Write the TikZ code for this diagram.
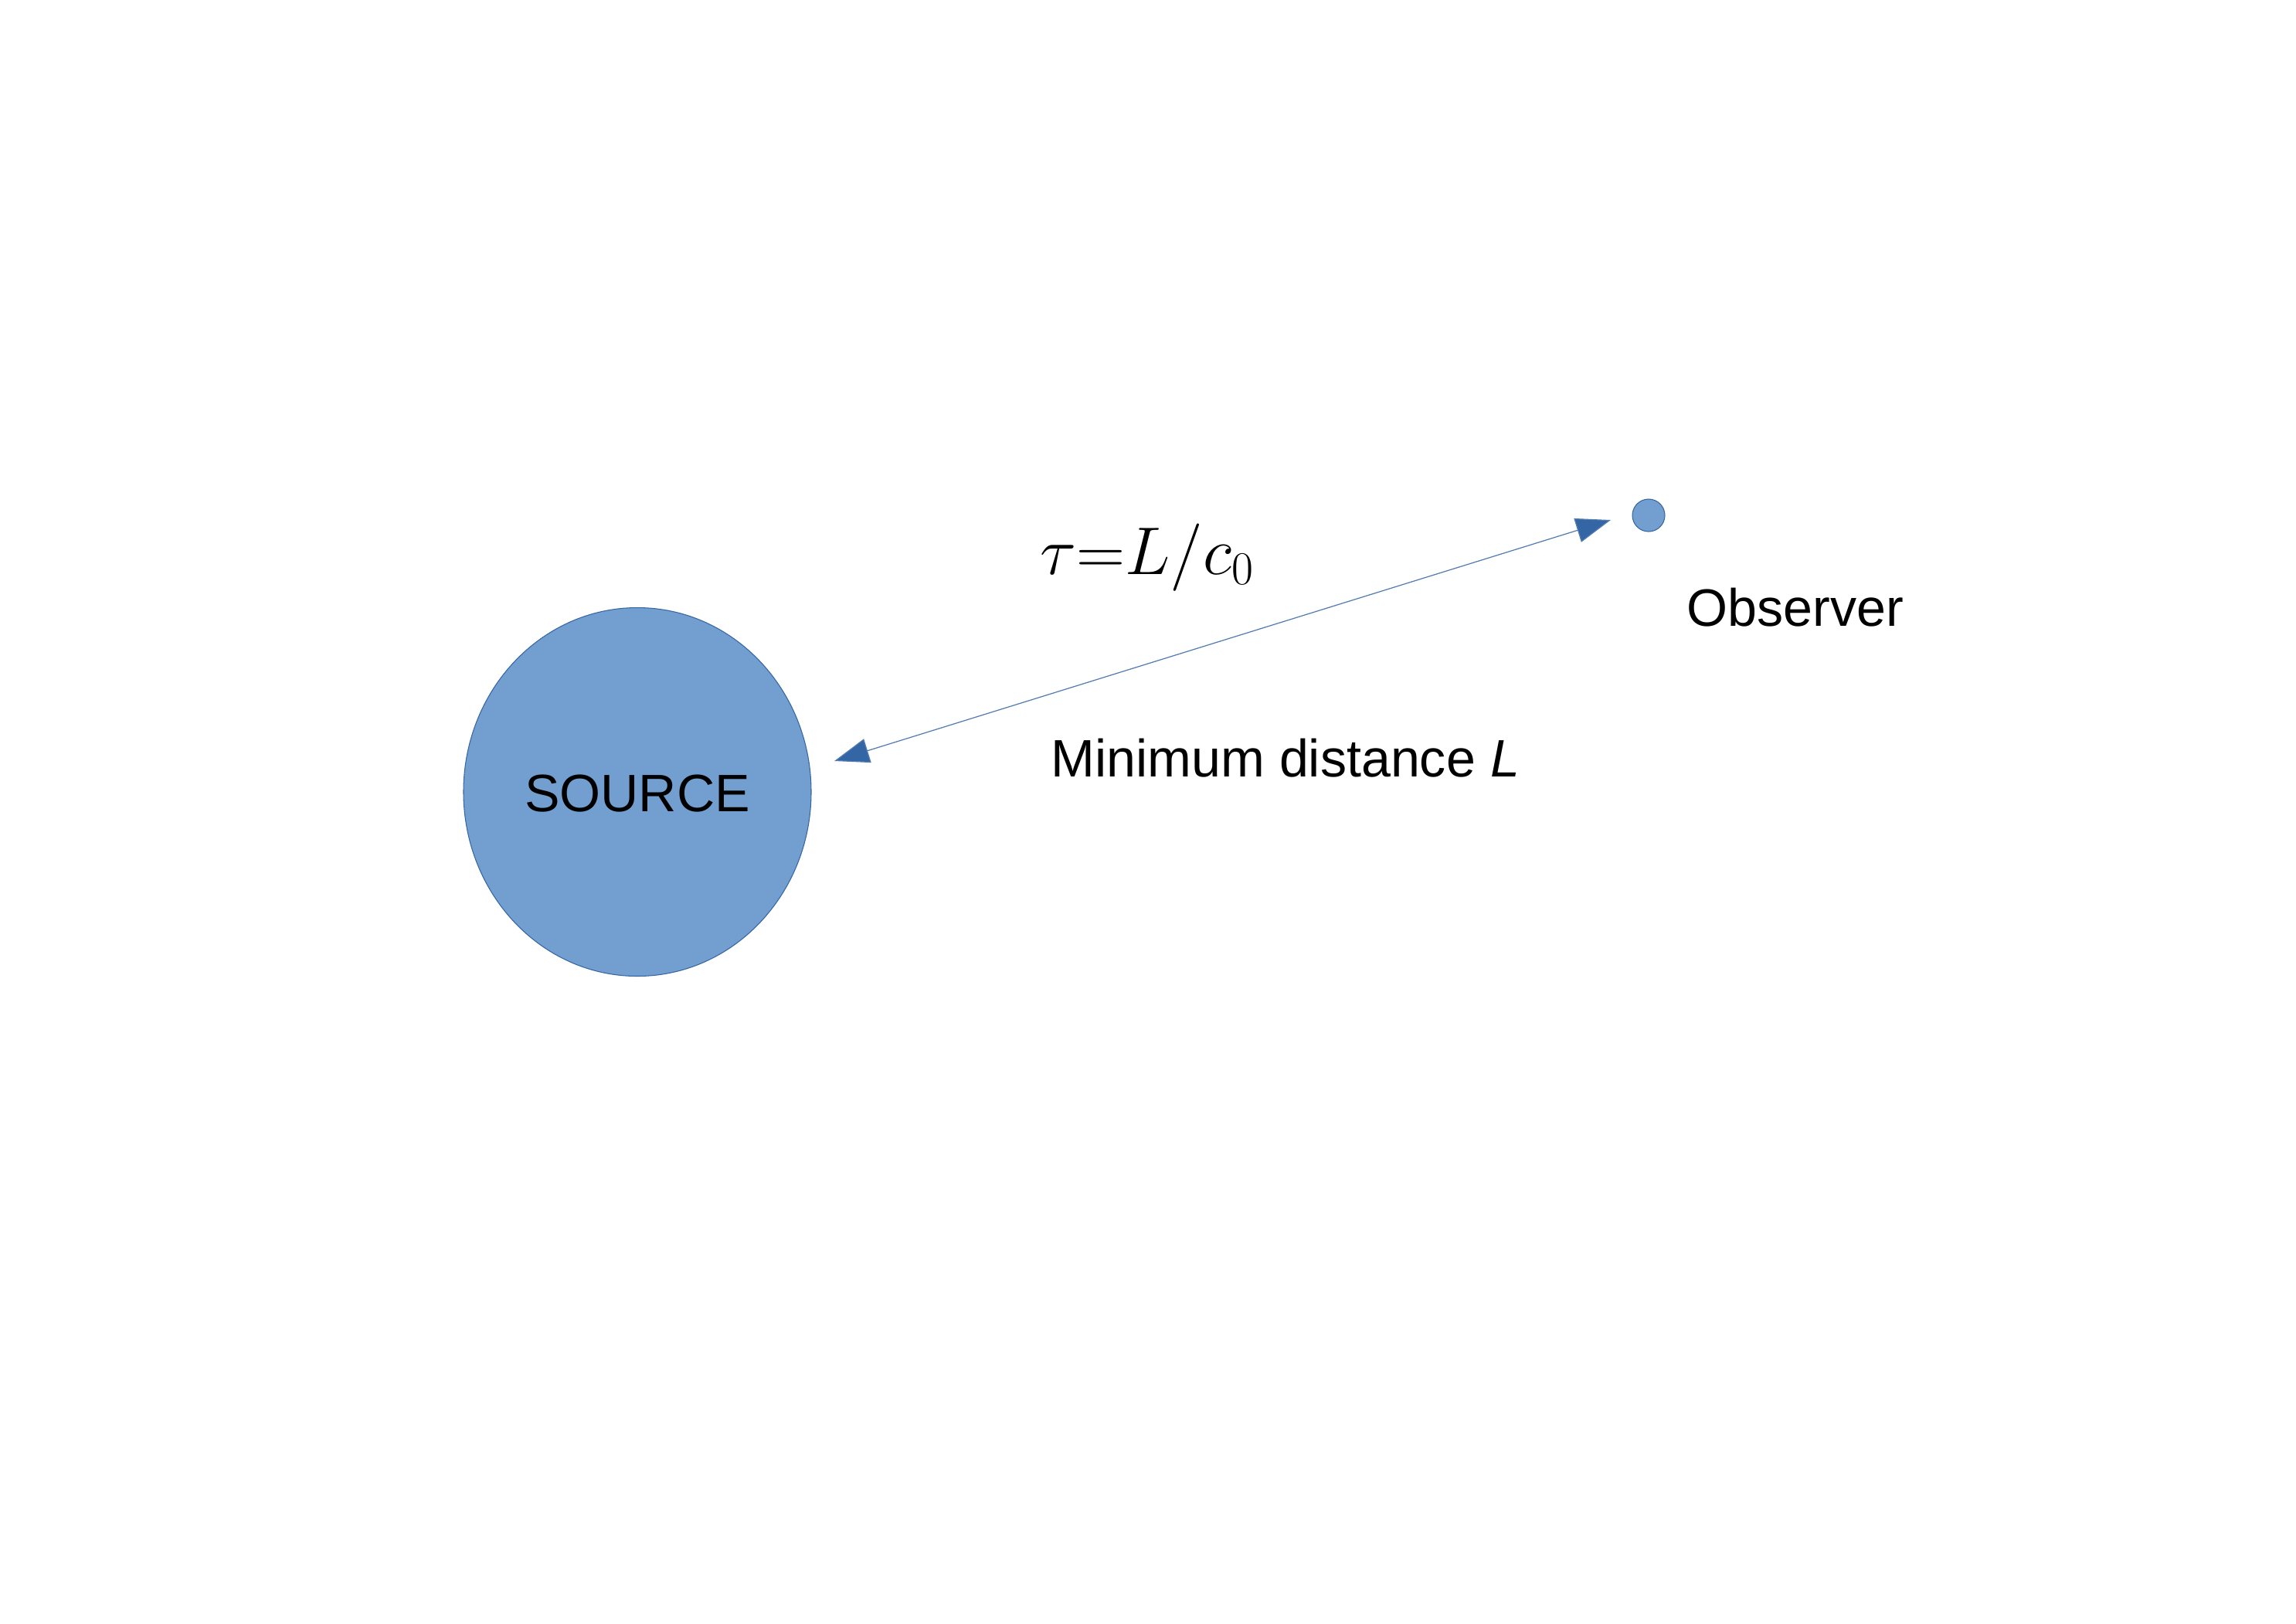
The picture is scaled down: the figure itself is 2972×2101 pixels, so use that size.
\documentclass[tikz,border=0pt]{standalone}
\usepackage[no-math]{fontspec}
\setmainfont{Liberation Sans}
\usetikzlibrary{arrows.meta,shapes.geometric}
\definecolor{fillblue}{HTML}{729FCF}
\definecolor{edgeblue}{HTML}{3465A4}
\begin{document}
\begin{tikzpicture}[x=0.1mm,y=-0.1mm,
  blob/.style={ellipse,fill=fillblue,draw=edgeblue,line width=0.3pt,inner sep=0pt},
  lbl/.style={inner sep=0pt,anchor=base west,font=\fontsize{19.4}{23}\selectfont},
  conn/.style={draw=edgeblue!85,line width=0.35pt,
    {Triangle[length=12.8pt,width=9.1pt,fill=edgeblue]}-{Triangle[length=12.8pt,width=9.1pt,fill=edgeblue]}}]
\useasboundingbox (0,0) rectangle (2972,2101);
\fill[white] (0,0) rectangle (2972,2101);
\node[blob,minimum width=45mm,minimum height=47.7mm] (src) at (825,1025) {};
\node[inner sep=0pt,anchor=base,font=\fontsize{19.4}{23}\selectfont] (srclbl) at (825,1050) {SOURCE};
\node[blob,minimum width=4.2mm,minimum height=4.2mm] (obs) at (2134,667) {};
\node[lbl] (obslbl) at (2183,810) {Observer};
\node[lbl] (dist) at (1360,1005) {Minimum distance \textit{L}};
\node[inner sep=0pt,anchor=base west,font=\fontsize{25.4}{30}\selectfont] (tau) at (1346,743) {$\tau{=}L/c_{0}$};
\coordinate (a1) at (1080,985);
\coordinate (a2) at (2085,673);
\draw[conn] (a1) -- (a2);
\end{tikzpicture}
\end{document}
